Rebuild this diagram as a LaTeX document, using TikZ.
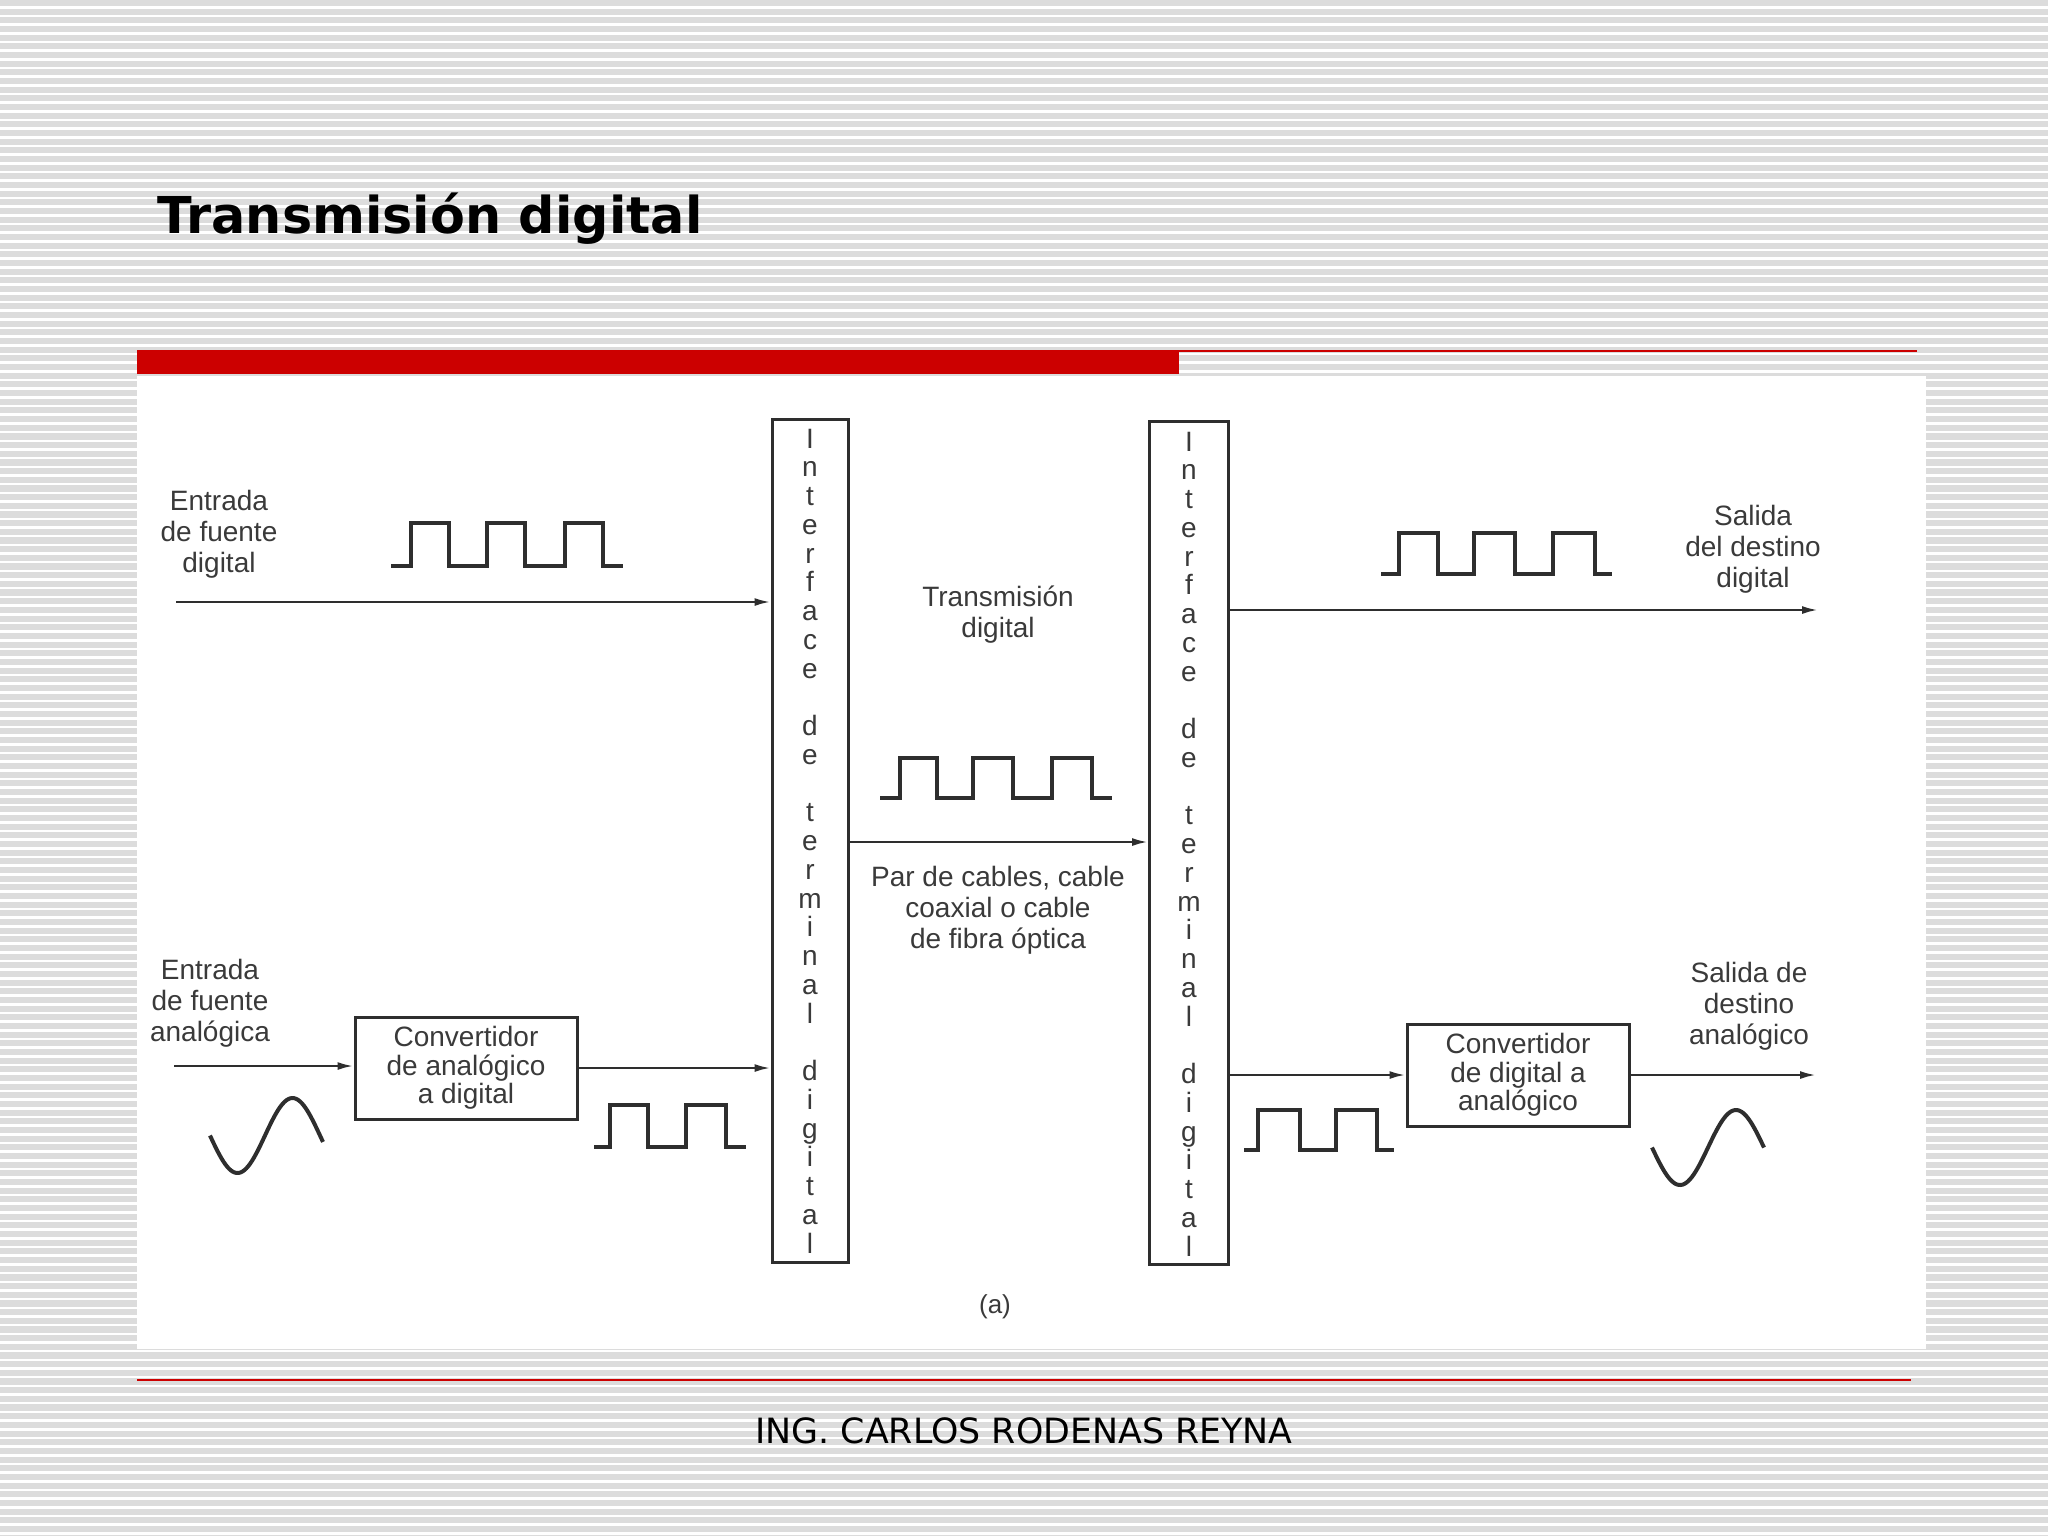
\documentclass[tikz,border=0pt]{standalone}
\usepackage{fontspec}
\setmainfont{Liberation Sans}
\newfontfamily\slidefont{DejaVu Sans}
\usetikzlibrary{arrows.meta}
\definecolor{stripegray}{HTML}{DCDCDC}
\definecolor{slidered}{HTML}{CC0000}
\definecolor{ink}{HTML}{2E2E2E}
\definecolor{txt}{HTML}{3A3A3A}
\begin{document}
\begin{tikzpicture}[x=0.5pt,y=-0.5pt,
  lbl/.style={font=\fontsize{14}{15.5}\selectfont, text=txt, align=center, inner sep=0pt},
  ifbox/.style={draw=ink, line width=1.5pt, minimum width=38pt, minimum height=421.5pt, inner sep=0pt},
  convbox/.style={draw=ink, line width=1.5pt, minimum width=111pt, minimum height=51pt, inner sep=0pt, align=center, font=\fontsize{14}{14.3}\selectfont, text=txt},
  arr/.style={draw=ink, line width=1.2pt, -{Latex[length=8pt,width=4pt]}},
  wave/.style={draw=ink, line width=2.2pt},
  letter/.style={font=\fontsize{14}{14}\selectfont, text=txt, inner sep=0pt, anchor=base}
]
\useasboundingbox (0,0) rectangle (2048,1536);
% slide background
\fill[stripegray] (0,0) rectangle (2048,1536);
\foreach \k in {0,...,177} \fill[white] (0,{6+8.67*\k}) rectangle (2048,{8.6+8.67*\k});
% title
\node[anchor=base west, inner sep=0pt, font=\slidefont\bfseries\fontsize{25.4}{30}\selectfont] (title) at (157,233) {Transmisión digital};
% red rules
\fill[slidered] (137,350) rectangle (1179,374);
\draw[slidered, line width=1pt] (1179,351) -- (1917,351);
% white panel
\fill[white] (137,376) rectangle (1926,1349);
\draw[slidered, line width=0.8pt] (137,1380) -- (1911,1380);
\node[anchor=base, inner sep=0pt, font=\slidefont\fontsize{17.4}{20}\selectfont] (footer) at (1024,1443) {ING. CARLOS RODENAS REYNA};

% interface boxes
\node[ifbox] (ifL) at (810,840.5) {};
\node[ifbox, minimum width=39.5pt] (ifR) at (1189,843) {};
\foreach \ch [count=\i from 0] in {I,n,t,e,r,f,a,c,e,{},d,e,{},t,e,r,m,i,n,a,l,{},d,i,g,i,t,a,l} {
  \node[letter] (lL\i) at (810,{448+28.75*\i}) {\ch};
  \node[letter] (lR\i) at (1189,{451+28.75*\i}) {\ch};
}

% labels
\node[lbl] (lab1) at (219,534) {Entrada\\de fuente\\digital};
\node[lbl] (lab2) at (998,615) {Transmisión\\digital};
\node[lbl] (lab3) at (998,910) {Par de cables, cable\\coaxial o cable\\de fibra óptica};
\node[lbl] (lab4) at (1753,549) {Salida\\del destino\\digital};
\node[lbl] (lab5) at (210,1003) {Entrada\\de fuente\\analógica};
\node[lbl] (lab6) at (1749,1006) {Salida de\\destino\\analógico};
\node[lbl, font=\fontsize{13}{14}\selectfont] (lab7) at (995,1307) {(a)};

% converters
\node[convbox] (ad) at (466,1068) {Convertidor\\de analógico\\a digital};
\node[convbox] (da) at (1518,1075) {Convertidor\\de digital a\\analógico};

% connectors
\coordinate (inD) at (176,602);
\draw[arr] (inD) -- (inD -| ifL.west);
\coordinate (outD) at (1818,610);
\draw[arr] (ifR.east |- outD) -- (outD);
\coordinate (midT) at (998,842);
\draw[arr] (midT -| ifL.east) -- (midT -| ifR.west);
\coordinate (inA) at (174,1066);
\draw[arr] (inA) -- (inA -| ad.west);
\draw[arr] (ad.east) -- (ad.east -| ifL.west);
\draw[arr] (da.west -| ifR.east) -- (da.west);
\coordinate (outA) at (1816,1075);
\draw[arr] (da.east) -- (outA);

% square waves
\draw[wave] (391,566) -- (411,566) -- (411,523) -- (449,523) -- (449,566) -- (487,566) -- (487,523) -- (525,523) -- (525,566) -- (565,566) -- (565,523) -- (603,523) -- (603,566) -- (623,566);
\draw[wave] (880,798) -- (900,798) -- (900,758) -- (937,758) -- (937,798) -- (973,798) -- (973,758) -- (1013,758) -- (1013,798) -- (1052,798) -- (1052,758) -- (1092,758) -- (1092,798) -- (1112,798);
\draw[wave] (1381,574) -- (1399,574) -- (1399,533) -- (1438,533) -- (1438,574) -- (1474,574) -- (1474,533) -- (1515,533) -- (1515,574) -- (1553,574) -- (1553,533) -- (1595,533) -- (1595,574) -- (1612,574);
\draw[wave] (594,1147) -- (610,1147) -- (610,1105) -- (648,1105) -- (648,1147) -- (686,1147) -- (686,1105) -- (726,1105) -- (726,1147) -- (746,1147);
\draw[wave] (1244,1150) -- (1258,1150) -- (1258,1110) -- (1300,1110) -- (1300,1150) -- (1336,1150) -- (1336,1110) -- (1377,1110) -- (1377,1150) -- (1394,1150);

% sine waves
\draw[wave, line width=2pt] plot[domain=210:323, samples=60, smooth] (\x, {1135.5+37.5*sin(3.2727*(\x-210))});
\draw[wave, line width=2pt] plot[domain=1652:1764, samples=60, smooth] (\x, {1147.5+37.5*sin(3.2143*(\x-1652))});
\end{tikzpicture}
\end{document}
